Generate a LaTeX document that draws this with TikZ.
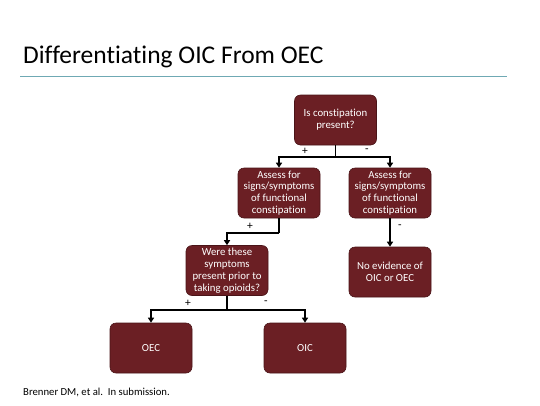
\documentclass[tikz,border=0pt]{standalone}
\usepackage{fontspec}
\setmainfont{Carlito}[Ligatures=NoCommon]
\usetikzlibrary{arrows.meta}
\definecolor{boxred}{HTML}{6B1F24}
\definecolor{boxedge}{HTML}{4A1418}
\definecolor{rulecol}{HTML}{6FA9B4}
\begin{document}
\begin{tikzpicture}[x=1pt,y=-1pt,
  flowbox/.style={draw=boxedge,line width=0.6pt,fill=boxred,rounded corners=6pt,
    minimum width=82pt,minimum height=50pt,text=white,align=center,
    font=\fontsize{10.8}{11.8}\selectfont,inner sep=1pt},
  conn/.style={line width=1.8pt,black},
  arr/.style={conn,-{Triangle[width=6pt,length=5pt]}},
  sign/.style={font=\fontsize{11.5}{13}\selectfont,inner sep=0pt}]
\useasboundingbox (0,0) rectangle (540,405);
\fill[white] (0,0) rectangle (540,405);
\node[anchor=base west,inner sep=0pt,font=\fontsize{25.5}{30}\selectfont] (title) at (23,63) {Differentiating OIC From OEC};
\coordinate (rl) at (20,76);
\coordinate (rr) at (507,76);
\draw[rulecol,line width=1pt] (rl) -- (rr);

\node[flowbox] (q1) at (335.5,120) {Is constipation\\present?};
\node[flowbox] (a1) at (279,193) {Assess for\\signs/symptoms\\of functional\\constipation};
\node[flowbox] (a2) at (390,193) {Assess for\\signs/symptoms\\of functional\\constipation};
\node[flowbox] (q2) at (227,270.5) {Were these\\symptoms\\present prior to\\taking opioids?};
\node[flowbox] (ne) at (390,272) {No evidence of\\OIC or OEC};
\node[flowbox] (oec) at (151,348) {OEC};
\node[flowbox] (oic) at (305,348) {OIC};

\coordinate (j1) at (335.5,157);
\coordinate (j2) at (279,233);
\coordinate (j3) at (227,310);
\draw[conn] (q1.south) -- (j1);
\draw[arr] (j1) -| (a1.north);
\draw[arr] (j1) -| (a2.north);
\draw[conn] (a1.south) -- (j2);
\draw[arr] (j2) -| (q2.north);
\draw[arr] (a2.south) -- (ne.north);
\draw[conn] (q2.south) -- (j3);
\draw[arr] (j3) -| (oec.north);
\draw[arr] (j3) -| (oic.north);

\node[sign] (p1) at (305,151) {+};
\node[sign] (m1) at (367,151) {-};
\node[sign] (p2) at (250,226) {+};
\node[sign] (m2) at (400,227) {-};
\node[sign] (p3) at (188,303) {+};
\node[sign] (m3) at (266,303) {-};

\node[anchor=base west,inner sep=0pt,font=\fontsize{10.7}{12}\selectfont] (foot) at (23,395) {Brenner DM, et al.\ \ In submission.};
\end{tikzpicture}
\end{document}
